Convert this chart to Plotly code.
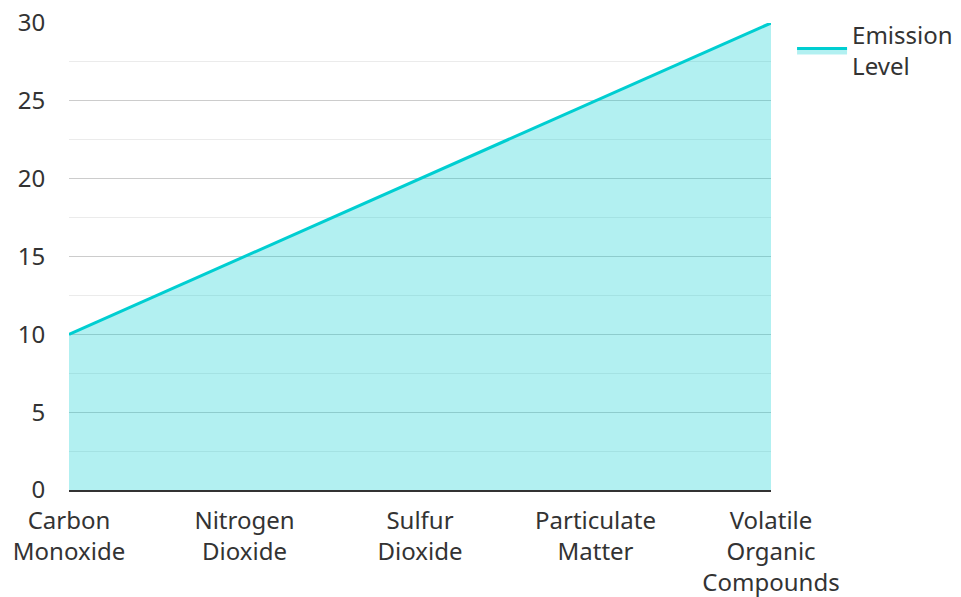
import plotly.graph_objects as go

categories = ["Carbon<br>Monoxide", "Nitrogen<br>Dioxide", "Sulfur<br>Dioxide",
              "Particulate<br>Matter", "Volatile<br>Organic<br>Compounds"]
emission_level = [10, 15, 20, 25, 30]
y_ticks = [0, 5, 10, 15, 20, 25, 30]

FONT = "Noto Sans"
TEXT = "#333333"
SIZE = 24

fig = go.Figure()
fig.add_trace(go.Scatter(
    x=categories,
    y=emission_level,
    name="Emission<br>Level",
    mode="lines",
    line=dict(color="#00CED1", width=3),
    fill="tozeroy",
    fillcolor="rgba(0,206,209,0.3)",
    showlegend=True,
))

fig.update_layout(
    width=961,
    height=597,
    margin=dict(l=69, r=190, t=23, b=107, autoexpand=False),
    paper_bgcolor="white",
    plot_bgcolor="white",
    font=dict(family=FONT, size=SIZE, color=TEXT),
    legend=dict(x=1.03, y=1.022, xanchor="left", yanchor="top", itemwidth=50,
                font=dict(family=FONT, size=SIZE, color=TEXT)),
    xaxis=dict(
        showgrid=False,
        showline=True,
        linecolor=TEXT,
        linewidth=2,
        ticks="outside",
        ticklen=8,
        tickcolor="rgba(0,0,0,0)",
        range=[0, 4],
        automargin=False,
        tickfont=dict(family=FONT, size=SIZE, color=TEXT),
    ),
    yaxis=dict(
        range=[0, 30],
        tickvals=y_ticks,
        showgrid=True,
        gridcolor="#cccccc",
        gridwidth=1,
        zeroline=False,
        showline=False,
        ticks="outside",
        ticklen=18,
        tickcolor="rgba(0,0,0,0)",
        automargin=False,
        tickfont=dict(family=FONT, size=SIZE, color=TEXT),
        minor=dict(dtick=2.5, showgrid=True, gridcolor="#ebebeb", gridwidth=1),
    ),
)

fig.write_html("out.html")
